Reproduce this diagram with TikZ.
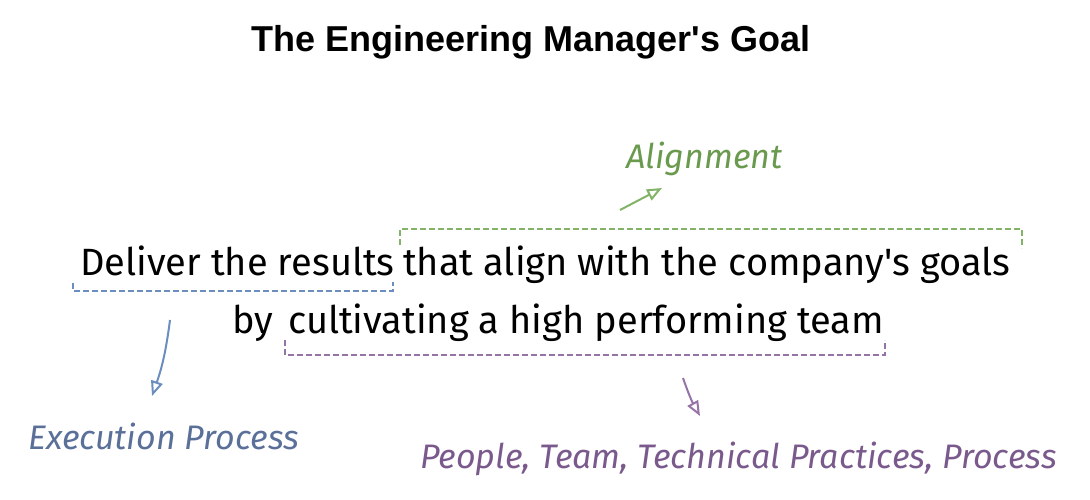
\documentclass[tikz,border=0pt]{standalone}
\usepackage{fontspec}
\setmainfont{Liberation Sans}
\newfontfamily\handfont{Fira Sans}
\usetikzlibrary{arrows.meta}
\definecolor{grn}{HTML}{82B366}
\definecolor{grntxt}{HTML}{6A9A4E}
\definecolor{blu}{HTML}{6C8EBF}
\definecolor{blutxt}{HTML}{5A7099}
\definecolor{prp}{HTML}{9673A6}
\definecolor{prptxt}{HTML}{7A5A8C}
\begin{document}
\begin{tikzpicture}[x=1pt, y=-1pt, >={Triangle[open,length=15pt,width=12pt]},
	hand/.style={font=\handfont\fontsize{38}{44}\selectfont, inner sep=0pt, anchor=base west},
	tag/.style={font=\handfont\itshape\fontsize{34}{40}\selectfont, inner sep=0pt, anchor=base west},
	brace/.style={line width=2pt, dash pattern=on 6pt off 3pt},
	pointer/.style={line width=2pt, ->}]
	\useasboundingbox (0,0) rectangle (1090,500);
	\node[font=\bfseries\fontsize{36}{42}\selectfont, anchor=base] (title) at (531,52) {The Engineering Manager\textquotesingle s Goal};
	% the goal, two lines
	\node[hand] (deliver) at (80,275) {Deliver the results};
	\node[hand] (align) at (403,275) {that align with the company's goals};
	\node[hand] (by) at (232,333) {by};
	\node[hand] (team) at (288,333) {cultivating a high performing team};
	% brackets
	\draw[brace, blu] (73,283) -- (73,291) -- (393,291) -- (393,282);
	\draw[brace, grn] (400,245) -- (400,229) -- (1022,229) -- (1022,248);
	\draw[brace, prp] (285,340) -- (285,355) -- (885,355) -- (885,340);
	% labels
	\node[tag, text=grntxt] (alignment) at (626,168) {Alignment};
	\node[tag, text=blutxt] (execution) at (28,449) {Execution Process};
	\node[tag, text=prptxt] (people) at (420,468) {People, Team, Technical Practices, Process};
	% arrows
	\coordinate (gTail) at (620,210);
	\coordinate (gHead) at (662,188);
	\coordinate (bTail) at (170,320);
	\coordinate (bHead) at (152,396);
	\coordinate (pTail) at (683,378);
	\coordinate (pHead) at (700,416);
	\draw[pointer, grn] (gTail) -- (gHead);
	\draw[pointer, blu] (bTail) to[bend left=6] (bHead);
	\draw[pointer, prp] (pTail) to[bend right=5] (pHead);
\end{tikzpicture}
\end{document}
